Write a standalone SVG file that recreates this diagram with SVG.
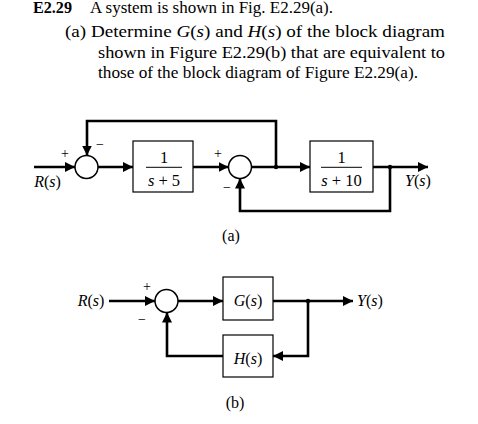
<svg xmlns="http://www.w3.org/2000/svg" width="478" height="424" viewBox="0 0 478 424">
<defs>
<marker id="ah" viewBox="0 0 10 10" refX="10" refY="5" markerWidth="10" markerHeight="10" markerUnits="userSpaceOnUse" orient="auto">
<path d="M0,0 L10,5 L0,10 z" fill="#000"/>
</marker>
</defs>
<style>
.t{font-family:"Liberation Serif","Times New Roman",serif;font-size:16px;fill:#000}
.b{font-weight:bold}
.i{font-style:italic}
.lbl{font-family:"Liberation Serif","Times New Roman",serif;font-size:16px;fill:#000}
.fr{font-family:"Liberation Serif","Times New Roman",serif;font-size:16.5px;fill:#000}
.sm{font-family:"Liberation Serif","Times New Roman",serif;font-size:14px;fill:#000}
.blk{fill:#fff;stroke:#000;stroke-width:1.2}
.sum{fill:#fff;stroke:#000;stroke-width:1.5}
.w{fill:none;stroke:#000;stroke-width:2.6}
.a{marker-end:url(#ah)}
.dot{fill:#000}
</style>
<rect width="478" height="424" fill="#fff"/>
<g id="header">
<text class="t b" x="33" y="13" textLength="39" lengthAdjust="spacingAndGlyphs">E2.29</text>
<text class="t" x="90" y="13" textLength="243" lengthAdjust="spacingAndGlyphs">A system is shown in Fig. E2.29(a).</text>
<text class="t" x="65" y="37" textLength="380" lengthAdjust="spacingAndGlyphs">(a) Determine <tspan class="i">G</tspan>(<tspan class="i">s</tspan>) and <tspan class="i">H</tspan>(<tspan class="i">s</tspan>) of the block diagram</text>
<text class="t" x="98" y="57.5" textLength="347" lengthAdjust="spacingAndGlyphs">shown in Figure E2.29(b) that are equivalent to</text>
<text class="t" x="98" y="78" textLength="320" lengthAdjust="spacingAndGlyphs">those of the block diagram of Figure E2.29(a).</text>
</g>
<g id="connectors">
<line class="w a" x1="34" y1="167" x2="75" y2="167"/>
<polyline class="w a" points="276,167 276,121 87,121 87,155.5"/>
<line class="w a" x1="98" y1="167" x2="133" y2="167"/>
<line class="w a" x1="193" y1="167" x2="228.5" y2="167"/>
<line class="w a" x1="251.5" y1="167" x2="310" y2="167"/>
<line class="w a" x1="373" y1="167" x2="428" y2="167"/>
<polyline class="w a" points="390,167 390,211 240,211 240,178.5"/>
<line class="w a" x1="109" y1="301" x2="155" y2="301"/>
<line class="w a" x1="178" y1="301" x2="223" y2="301"/>
<line class="w a" x1="273" y1="301" x2="353" y2="301"/>
<polyline class="w a" points="308,301 308,356 273,356"/>
<polyline class="w a" points="223,356 167,356 167,312.5"/>
<circle class="dot" cx="276" cy="167" r="2.2"/>
<circle class="dot" cx="390" cy="167" r="2.2"/>
<circle class="dot" cx="308" cy="301" r="2.2"/>
</g>
<g id="sum1">
<circle class="sum" cx="86.5" cy="167" r="11.5"/>
<text class="sm" x="65" y="158" text-anchor="middle">+</text>
<text class="sm" x="100" y="149" text-anchor="middle">−</text>
</g>
<g id="block1">
<rect class="blk" x="133" y="141" width="60" height="51"/>
<text class="fr" x="164" y="163" text-anchor="middle">1</text>
<line x1="146" y1="167.3" x2="182" y2="167.3" stroke="#000" stroke-width="1"/>
<text class="fr" x="164" y="186" text-anchor="middle"><tspan class="i">s</tspan> + 5</text>
</g>
<g id="sum2">
<circle class="sum" cx="240" cy="167" r="11.5"/>
<text class="sm" x="218" y="158" text-anchor="middle">+</text>
<text class="sm" x="227" y="192" text-anchor="middle">−</text>
</g>
<g id="block2">
<rect class="blk" x="310" y="141" width="63" height="51"/>
<text class="fr" x="341.5" y="163" text-anchor="middle">1</text>
<line x1="321" y1="167.3" x2="362" y2="167.3" stroke="#000" stroke-width="1"/>
<text class="fr" x="341.5" y="186" text-anchor="middle"><tspan class="i">s</tspan> + 10</text>
</g>
<g id="labels-a">
<text class="lbl" x="47.5" y="187" text-anchor="middle"><tspan class="i">R</tspan>(<tspan class="i">s</tspan>)</text>
<text class="lbl" x="418" y="186" text-anchor="middle"><tspan class="i">Y</tspan>(<tspan class="i">s</tspan>)</text>
<text class="lbl" x="231" y="241" text-anchor="middle">(a)</text>
</g>
<g id="sum3">
<circle class="sum" cx="166.5" cy="301" r="11.5"/>
<text class="sm" x="147" y="291" text-anchor="middle">+</text>
<text class="sm" x="142" y="324" text-anchor="middle">−</text>
</g>
<g id="blockG">
<rect class="blk" x="223" y="277" width="50" height="43"/>
<text class="lbl" x="248" y="306" text-anchor="middle"><tspan class="i">G</tspan>(<tspan class="i">s</tspan>)</text>
</g>
<g id="blockH">
<rect class="blk" x="223" y="335" width="50" height="42"/>
<text class="lbl" x="248" y="364" text-anchor="middle"><tspan class="i">H</tspan>(<tspan class="i">s</tspan>)</text>
</g>
<g id="labels-b">
<text class="lbl" x="91" y="306" text-anchor="middle"><tspan class="i">R</tspan>(<tspan class="i">s</tspan>)</text>
<text class="lbl" x="370" y="306" text-anchor="middle"><tspan class="i">Y</tspan>(<tspan class="i">s</tspan>)</text>
<text class="lbl" x="235" y="408" text-anchor="middle">(b)</text>
</g>
</svg>
